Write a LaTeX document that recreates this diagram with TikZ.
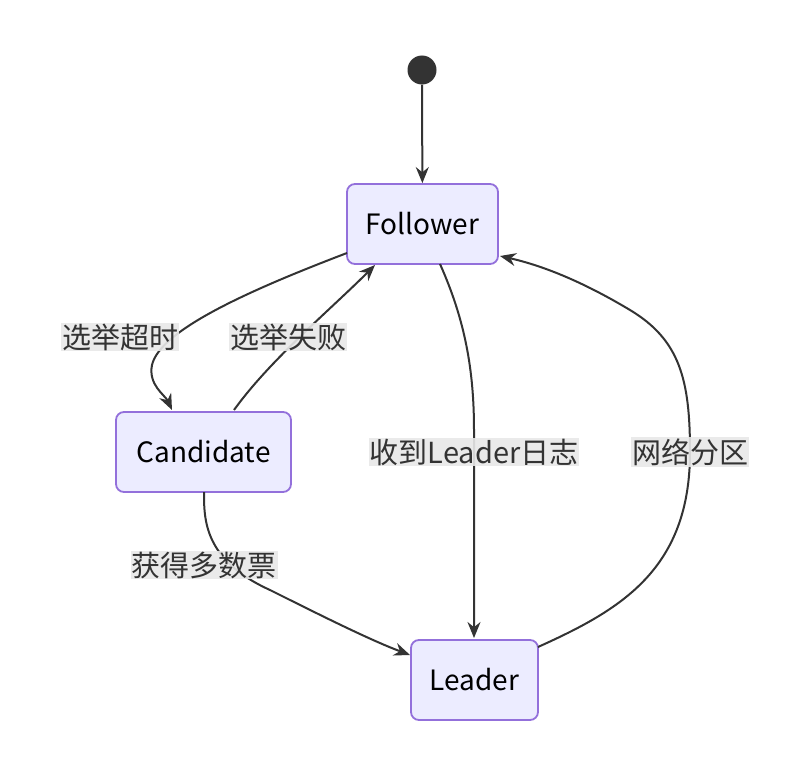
\documentclass[tikz,border=0pt]{standalone}
\usepackage{fontspec}
\setmainfont{Noto Sans CJK SC}
\usetikzlibrary{arrows.meta}
\definecolor{nfill}{HTML}{ECECFF}
\definecolor{ndraw}{HTML}{9370DB}
\definecolor{edge}{HTML}{333333}
\definecolor{lbg}{HTML}{E8E8E8}
\begin{document}
\begin{tikzpicture}[x=1pt,y=-1pt,
  st/.style={draw=ndraw,fill=nfill,rounded corners=8pt,line width=1.8pt,font=\fontsize{28}{32}\selectfont,inner sep=0pt},
  lb/.style={fill=lbg,fill opacity=0.9,text opacity=1,text=edge,font=\fontsize{29}{33}\selectfont,inner sep=1pt},
  ed/.style={draw=edge,line width=2pt,-{Stealth[length=16pt,width=13pt]}}]
\useasboundingbox (0,0) rectangle (809,776);
\node[circle,fill=edge,minimum size=29pt,inner sep=0pt] (s) at (422,70) {};
\node[st,minimum width=151pt,minimum height=80pt] (f) at (422.5,224) {Follower};
\node[st,minimum width=175pt,minimum height=80pt] (c) at (203.5,452) {Candidate};
\node[st,minimum width=127pt,minimum height=80pt] (l) at (474.5,680) {Leader};
\coordinate (fc) at (347,253);
\coordinate (cf) at (234,410);
\coordinate (fl) at (440,264);
\coordinate (cl) at (204,492);
\coordinate (lf) at (538,647);
\draw[ed] (s) -- (f);
\draw[ed] (fc) .. controls (250,290) and (160,330) .. (152,365) .. controls (148,385) and (165,395) .. (172,410);
\draw[ed] (cf) .. controls (270,360) and (330,310) .. (375,265);
\draw[ed] (fl) .. controls (465,320) and (474,370) .. (474,430) -- (474,638);
\draw[ed] (cl) .. controls (204,520) and (204,560) .. (270,590) .. controls (320,615) and (370,640) .. (410,655);
\draw[ed] (lf) .. controls (620,610) and (690,570) .. (690,452) .. controls (690,380) and (680,340) .. (630,310) .. controls (580,280) and (540,265) .. (500,256);
\node[lb] (t1) at (120,337) {选举超时};
\node[lb] (t2) at (288,337) {选举失败};
\node[lb] (t3) at (474,452) {收到Leader日志};
\node[lb] (t4) at (204,565) {获得多数票};
\node[lb] (t5) at (690,452) {网络分区};
\end{tikzpicture}
\end{document}
